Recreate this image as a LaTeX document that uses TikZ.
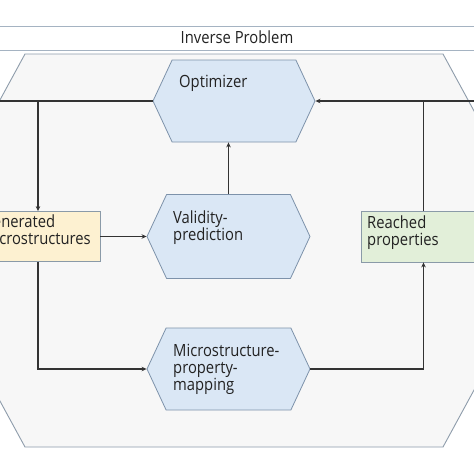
\documentclass[tikz,border=0pt]{standalone}
\usepackage{fontspec}
\setmainfont{Open Sans}[FakeStretch=0.88]
\usetikzlibrary{shapes.symbols,arrows.meta}
\definecolor{txt}{HTML}{222222}
\definecolor{hexfill}{HTML}{DAE7F5}
\definecolor{hexline}{HTML}{7D92AA}
\definecolor{outfill}{HTML}{F7F7F7}
\definecolor{outline}{HTML}{8E9CAB}
\definecolor{bandline}{HTML}{A5B3C2}
\definecolor{genfill}{HTML}{FDF1D1}
\definecolor{reachfill}{HTML}{E2EFD9}
\definecolor{boxline}{HTML}{8A9AA8}
\definecolor{conncol}{HTML}{333333}
\tikzset{
  hexbox/.style={signal, signal to=west and east, signal pointer angle=130,
    draw=hexline, fill=hexfill, line width=0.8pt, inner sep=0pt},
  rectbox/.style={draw=boxline, line width=0.8pt, inner sep=0pt},
  lbl/.style={anchor=base west, inner sep=0pt, text=txt, text width=150pt, align=left,
    font=\fontsize{16.8}{17}\selectfont},
  conn/.style={draw=conncol, line width=1.1pt},
  arr/.style={conn, -{Stealth[length=5pt,width=4.5pt]}}
}
\begin{document}
\begin{tikzpicture}[x=1pt,y=-1pt]
\useasboundingbox (0,0) rectangle (474,474);
\clip (0,0) rectangle (474,474);
\fill[white] (0,0) rectangle (474,474);
% title band
\draw[bandline, line width=0.9pt] (-5,26) -- (479,26);
\draw[bandline, line width=0.9pt] (-5,50) -- (479,50);
\node[anchor=base, inner sep=0pt, text=txt, font=\fontsize{16.8}{17}\selectfont] (title) at (237,43.3) {Inverse Problem};
% outer hexagon
\draw[outline, fill=outfill, line width=0.9pt] (25,54) -- (443,54) -- (550,250.5) -- (443,447) -- (25,447) -- (-82,250.5) -- cycle;
% hexagons
\node[hexbox, minimum width=162pt, minimum height=82pt] (opt) at (234,101) {};
\node[hexbox, minimum width=163pt, minimum height=84pt] (val) at (228.5,236.5) {};
\node[hexbox, minimum width=163pt, minimum height=82pt] (mic) at (228.5,369) {};
% boxes
\node[rectbox, fill=genfill, minimum width=124pt, minimum height=50pt] (gen) at (38,236.5) {};
\node[rectbox, fill=reachfill, minimum width=125pt, minimum height=51pt] (reach) at (423.5,236.5) {};
% labels
\node[lbl] (optT) at (179,87.3) {Optimizer};
\node[lbl] (valT) at (173,223.3) {Validity-\\prediction};
\node[lbl] (micT) at (173,356) {Microstructure-\\property-\\mapping};
\node[lbl] (genT) at (-18,227.7) {Generated\\Microstructures};
\node[lbl] (reachT) at (367,228.3) {Reached\\properties};
% connectors
\coordinate (leftout) at (-10,101);
\coordinate (rightout) at (484,101);
\draw[conn] (opt.west) -- (leftout);
\draw[arr] (opt.west -| gen.north) -- (gen.north);
\draw[arr] (gen.east) -- (val.west);
\draw[arr] (gen.south) |- (mic.west);
\draw[arr] (val.north) -- (val.north |- opt.south);
\draw[arr] (mic.east) -| (reach.south);
\draw[arr] (reach.north) |- (opt.east);
\draw[conn] (rightout) -- (reach.north |- opt.east);
\end{tikzpicture}
\end{document}
